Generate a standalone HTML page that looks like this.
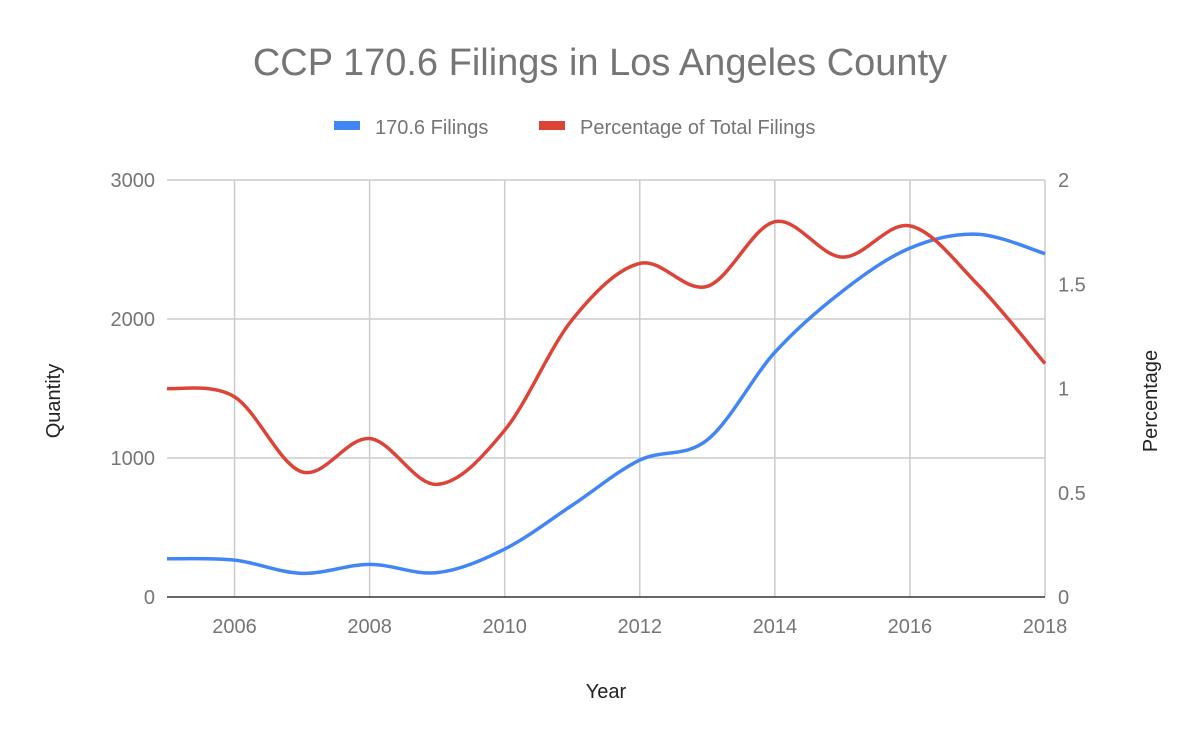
<!DOCTYPE html>
<html><head><meta charset="utf-8">
<style>
html,body{margin:0;padding:0;background:#fff;}
svg{display:block;font-family:"Liberation Sans",Arial,sans-serif;}
</style></head>
<body>
<svg id="chart" width="1200" height="742" viewBox="0 0 1200 742">
  <text x="600" y="75" text-anchor="middle" font-size="38" fill="#757575">CCP 170.6 Filings in Los Angeles County</text>
  <g>
    <g>
      <rect x="334" y="121" width="26" height="9" fill="#4285f4"/>
      <text x="375" y="134" font-size="20" fill="#757575">170.6 Filings</text>
    </g>
    <g>
      <rect x="539" y="121" width="26" height="9" fill="#db4437"/>
      <text x="580" y="134" font-size="20" fill="#757575">Percentage of Total Filings</text>
    </g>
  </g>
  <g id="grid"></g>
  <g id="axes"></g>
  <g id="series"></g>
  <text x="60" y="401" transform="rotate(-90 60 401)" text-anchor="middle" font-size="20" fill="#222">Quantity</text>
  <text x="1157" y="401" transform="rotate(-90 1157 401)" text-anchor="middle" font-size="20" fill="#222">Percentage</text>
  <text x="606" y="698" text-anchor="middle" font-size="20" fill="#222">Year</text>
</svg>
<script>
const years = [2005,2006,2007,2008,2009,2010,2011,2012,2013,2014,2015,2016,2017,2018];
const filings = [275,265,170,235,175,345,660,985,1130,1760,2200,2510,2610,2470];
const percentages = [1.0,0.96,0.6,0.76,0.54,0.8,1.33,1.6,1.49,1.8,1.63,1.78,1.5,1.12];
const xTicks = [2006,2008,2010,2012,2014,2016,2018];
const leftTicks = [0,1000,2000,3000];
const rightTicks = [0,0.5,1,1.5,2];

const X0=167,X1=1045,Y0=597,Y1=180;
const xs = y => X0 + (y-2005)/(2018-2005)*(X1-X0);
const yl = v => Y0 - v/3000*(Y0-Y1);
const yr = v => Y0 - v/2*(Y0-Y1);
const NS="http://www.w3.org/2000/svg";
function mk(tag, attrs, parent){const e=document.createElementNS(NS,tag);for(const k in attrs)e.setAttribute(k,attrs[k]);parent.appendChild(e);return e;}
const grid=document.getElementById('grid'), axes=document.getElementById('axes'), series=document.getElementById('series');

leftTicks.forEach((t,i)=>{
  const y=yl(t);
  if(t!==0){const l=mk('line',{x1:X0,x2:X1,y1:y,y2:y,stroke:'#ccc','stroke-width':1.5},grid);
  
  }
  const tx=mk('text',{x:155,y:y+7,'text-anchor':'end','font-size':20,fill:'#757575'},axes);
  tx.textContent=t;
  
  
});
rightTicks.forEach(t=>{
  const tx=mk('text',{x:1058,y:yr(t)+7,'text-anchor':'start','font-size':20,fill:'#757575'},axes);
  tx.textContent=t;
  
  
});
xTicks.forEach(t=>{
  const x=xs(t);
  const l=mk('line',{x1:x,x2:x,y1:Y1,y2:Y0,stroke:'#ccc','stroke-width':1.5},grid);
  
  
  const tx=mk('text',{x:x,y:633,'text-anchor':'middle','font-size':20,fill:'#757575'},axes);
  tx.textContent=t;
  
  
});
const base=mk('line',{x1:X0,x2:X1,y1:Y0,y2:Y0,stroke:'#333','stroke-width':1.5},axes);



function smooth(pts){
  let d=`M${pts[0][0]},${pts[0][1]}`;
  for(let i=0;i<pts.length-1;i++){
    const p0=pts[i-1]||pts[i],p1=pts[i],p2=pts[i+1],p3=pts[i+2]||p2;
    const c1=[p1[0]+(p2[0]-p0[0])/6,p1[1]+(p2[1]-p0[1])/6];
    const c2=[p2[0]-(p3[0]-p1[0])/6,p2[1]-(p3[1]-p1[1])/6];
    d+=` C${c1[0]},${c1[1]} ${c2[0]},${c2[1]} ${p2[0]},${p2[1]}`;
  }
  return d;
}
const bp=mk('path',{d:smooth(years.map((y,i)=>[xs(y),yl(filings[i])])),fill:'none',stroke:'#4285f4','stroke-width':3.5},series);


const rp=mk('path',{d:smooth(years.map((y,i)=>[xs(y),yr(percentages[i])])),fill:'none',stroke:'#db4437','stroke-width':3.5},series);


</script>
</body></html>
